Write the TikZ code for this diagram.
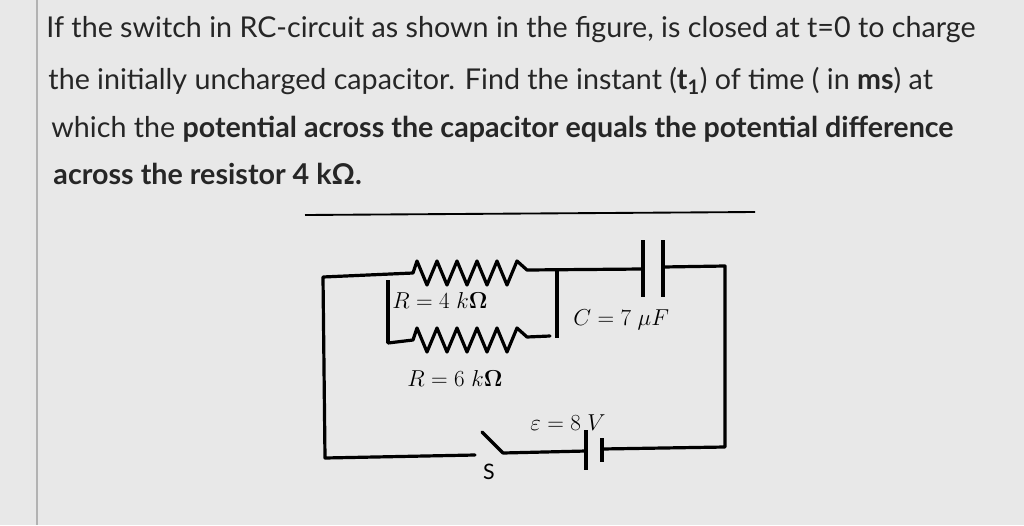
\documentclass[tikz,border=0pt]{standalone}
\usepackage{fontspec}
\setmainfont{Lato}
\usepackage{amsmath}
\begin{document}
\begin{tikzpicture}[x=0.75pt,y=-0.75pt,line width=2.2pt,
  wire/.style={line width=2.4pt,line cap=round,line join=round},
  qtext/.style={anchor=base west,inner sep=0pt,font=\fontsize{21.5}{24}\selectfont,text=black!85},
  lbl/.style={inner sep=0pt,font=\fontsize{19}{21}\selectfont}]
\fill[black!9] (0,0) rectangle (1024,525);
\useasboundingbox (0,0) rectangle (1024,525);
\draw[black!30,line width=0.8pt] (37,0) -- (37,525);
% text
\node[qtext] (l1) at (45,37) {If the switch in RC-circuit as shown in the figure, is closed at t=0 to charge};
\node[qtext] (l2) at (47,89) {the initially uncharged capacitor. Find the instant (\textbf{t\textsubscript{1}}) of time ( in \textbf{ms}) at};
\node[qtext] (l3) at (50,137) {which the \textbf{potential across the capacitor equals the potential difference}};
\node[qtext] (l4) at (52,184) {\textbf{across the resistor 4 kΩ.}};
\coordinate (h1) at (305,215); \coordinate (h2) at (755,212);
\draw[line width=1.4pt] (h1) -- (h2);
% circuit coordinates
\coordinate (tl) at (323,277); \coordinate (bl) at (325,458);
\coordinate (r1a) at (413,273); \coordinate (r1b) at (527,270);
\coordinate (c1) at (643,269); \coordinate (c2) at (663,267);
\coordinate (tr) at (725,266); \coordinate (br) at (725,447);
\coordinate (bat1) at (602,449); \coordinate (bat2) at (586,451);
\coordinate (sw1) at (503,453); \coordinate (sw2) at (482,432); \coordinate (sw0) at (475,455);
\coordinate (lb1) at (388,280); \coordinate (lb2) at (388,343);
\coordinate (r2a) at (413,340); \coordinate (r2b) at (527,337);
\coordinate (r2e) at (550,336);
\coordinate (rb1) at (557,270); \coordinate (rb2) at (557,338);
\draw[wire] (sw0) -- (bl) -- (tl) -- (r1a)
  -- ++(4,-12) -- ++(10,24) -- ++(10,-24) -- ++(10,24) -- ++(10,-24) -- ++(10,24) -- ++(10,-24) -- ++(10,24) -- ++(10,-24) -- ++(10,24) -- ++(10,-24) -- (r1b) -- (c1);
\draw[wire] (c2) -- (tr) -- (br) -- (bat1);
\draw[wire] (bat2) -- (sw1) -- (sw2);
\draw[wire] (lb2) -- (r2a)
  -- ++(4,-12) -- ++(10,24) -- ++(10,-24) -- ++(10,24) -- ++(10,-24) -- ++(10,24) -- ++(10,-24) -- ++(10,24) -- ++(10,-24) -- ++(10,24) -- ++(10,-24) -- (r2b) -- (r2e);
\draw[line width=3pt] (lb1) -- (lb2);
\draw[line width=3pt] (rb1) -- (rb2);
\draw[line width=3pt] (643,240) -- (643,297);
\draw[line width=3pt] (663,240) -- (663,297);
\draw[line width=3pt] (586,430) -- (586,470);
\draw[line width=3.5pt] (602,438) -- (602,462);
% labels
\node[lbl,anchor=west] (lR1) at (391,300) {$R = 4\ k\boldsymbol{\Omega}$};
\node[lbl,anchor=west] (lR2) at (406,378) {$R = 6\ k\boldsymbol{\Omega}$};
\node[lbl,anchor=west] (lC) at (572,320) {$C = 7\ \mu F$};
\node[lbl,anchor=west] (lE) at (529,423) {$\varepsilon = 8\ V$};
\node[lbl,font=\fontsize{16}{18}\selectfont] (lS) at (489,472) {S};
\end{tikzpicture}
\end{document}
